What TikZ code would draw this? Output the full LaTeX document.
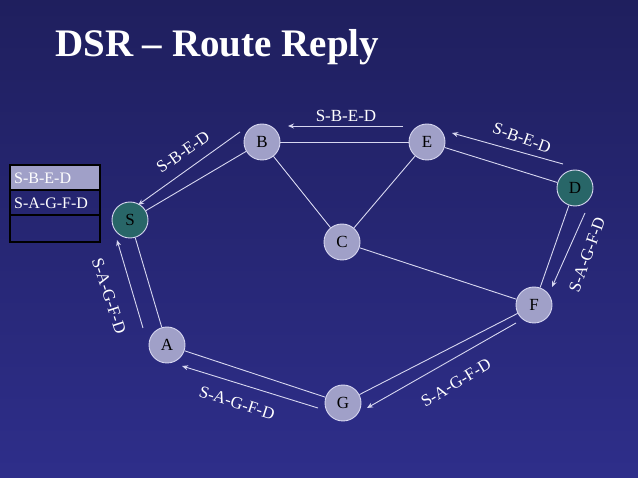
\documentclass[tikz,border=0pt]{standalone}
\usepackage{fontspec}
\setmainfont{Liberation Serif}
\usetikzlibrary{arrows.meta}
\definecolor{bgtop}{RGB}{31,31,94}
\definecolor{bgbot}{RGB}{46,46,138}
\definecolor{nodegray}{RGB}{160,160,200}
\definecolor{nodeteal}{RGB}{40,102,104}
\definecolor{linec}{RGB}{215,215,240}
\begin{document}
\begin{tikzpicture}[x=1pt,y=-1pt,
  net/.style={circle,draw=linec,line width=0.9pt,fill=nodegray,minimum size=36pt,inner sep=0pt,font=\fontsize{17}{17}\selectfont,text=black},
  src/.style={net,fill=nodeteal},
  link/.style={draw=linec,line width=0.9pt},
  reply/.style={draw=linec,line width=0.9pt,-{Stealth[length=6pt,width=5pt]}},
  lbl/.style={text=white,font=\fontsize{17}{17}\selectfont,inner sep=0pt},
  cellt/.style={text=white,font=\fontsize{16}{16}\selectfont,anchor=west,inner sep=0pt}]
\useasboundingbox (0,0) rectangle (638,478);
\shade[top color=bgtop,bottom color=bgbot] (0,0) rectangle (638,478);
% title
\node[anchor=base west,text=white,font=\fontsize{39}{39}\selectfont\bfseries,inner sep=0pt] (title) at (55,57) {DSR -- Route Reply};
% nodes
\node[src] (S) at (130,220) {S};
\node[net] (B) at (262,142) {B};
\node[net] (E) at (427,142) {E};
\node[src] (D) at (575,188) {D};
\node[net] (C) at (342,242) {C};
\node[net] (F) at (534,305) {F};
\node[net] (A) at (167,345) {A};
\node[net] (G) at (343,403) {G};
% links
\draw[link] (S) -- (B);
\draw[link] (B) -- (E);
\draw[link] (B) -- (C);
\draw[link] (E) -- (C);
\draw[link] (E) -- (D);
\draw[link] (D) -- (F);
\draw[link] (C) -- (F);
\draw[link] (F) -- (G);
\draw[link] (G) -- (A);
\draw[link] (A) -- (S);
% reply arrows
\coordinate (be1) at (403,126); \coordinate (be2) at (288,126);
\coordinate (de1) at (563,164); \coordinate (de2) at (452,133);
\coordinate (bs1) at (240,132); \coordinate (bs2) at (138,205);
\coordinate (df1) at (585,213); \coordinate (df2) at (552,287);
\coordinate (fg1) at (516,323); \coordinate (fg2) at (367,408);
\coordinate (ga1) at (318,408); \coordinate (ga2) at (182,366);
\coordinate (as1) at (143,328); \coordinate (as2) at (117,240);
\draw[reply] (be1) -- (be2);
\draw[reply] (de1) -- (de2);
\draw[reply] (bs1) -- (bs2);
\draw[reply] (df1) -- (df2);
\draw[reply] (fg1) -- (fg2);
\draw[reply] (ga1) -- (ga2);
\draw[reply] (as1) -- (as2);
% labels
\node[lbl] (l1) at (346,116) {S-B-E-D};
\node[lbl,rotate=-20] (l2) at (522,138) {S-B-E-D};
\node[lbl,rotate=35] (l3) at (183,152) {S-B-E-D};
\node[lbl,rotate=70] (l4) at (587,255) {S-A-G-F-D};
\node[lbl,rotate=31] (l5) at (456,383) {S-A-G-F-D};
\node[lbl,rotate=-18] (l6) at (237,403) {S-A-G-F-D};
\node[lbl,rotate=-72] (l7) at (109,296) {S-A-G-F-D};
% table
\fill[nodegray] (10,165) rectangle (100,190);
\draw[black,line width=1.2pt] (10,190) -- (100,190) (10,215) -- (100,215);
\draw[black,line width=2pt] (10,165) rectangle (100,242);
\node[cellt] (t1) at (14,178) {S-B-E-D};
\node[cellt] (t2) at (14,203) {S-A-G-F-D};
\end{tikzpicture}
\end{document}
